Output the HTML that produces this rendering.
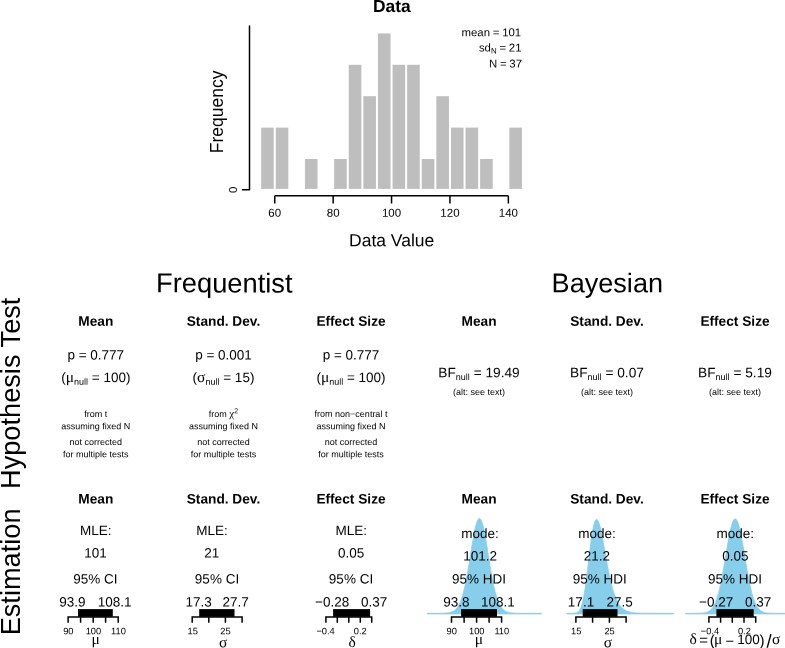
<!DOCTYPE html>
<html><head><meta charset="utf-8"><title>Data</title>
<style>
html,body{margin:0;padding:0;background:#fff;}
svg{display:block;font-family:"Liberation Sans",sans-serif;fill:#000;}
</style></head><body>
<svg width="785" height="648" viewBox="0 0 785 648">
<rect width="785" height="648" fill="#fff"/>
<rect x="261.15" y="127.60" width="12.60" height="61.30" fill="#bebebe"/>
<rect x="275.75" y="127.60" width="12.60" height="61.30" fill="#bebebe"/>
<rect x="304.95" y="159.00" width="12.60" height="29.90" fill="#bebebe"/>
<rect x="334.15" y="159.00" width="12.60" height="29.90" fill="#bebebe"/>
<rect x="348.75" y="64.80" width="12.60" height="124.10" fill="#bebebe"/>
<rect x="363.35" y="96.20" width="12.60" height="92.70" fill="#bebebe"/>
<rect x="377.95" y="33.40" width="12.60" height="155.50" fill="#bebebe"/>
<rect x="392.55" y="64.80" width="12.60" height="124.10" fill="#bebebe"/>
<rect x="407.15" y="64.80" width="12.60" height="124.10" fill="#bebebe"/>
<rect x="421.75" y="159.00" width="12.60" height="29.90" fill="#bebebe"/>
<rect x="436.35" y="96.20" width="12.60" height="92.70" fill="#bebebe"/>
<rect x="450.95" y="127.60" width="12.60" height="61.30" fill="#bebebe"/>
<rect x="465.55" y="127.60" width="12.60" height="61.30" fill="#bebebe"/>
<rect x="480.15" y="159.00" width="12.60" height="29.90" fill="#bebebe"/>
<rect x="509.35" y="127.60" width="12.60" height="61.30" fill="#bebebe"/>
<path d="M249.5 25.5V189.8H241.9" stroke="#000" stroke-width="1.5" fill="none" stroke-linejoin="round"/>
<text transform="translate(236.8,189.8) rotate(-90)" text-anchor="middle" font-size="11.5">0</text>
<path d="M274.75 195.8H508.35M274.75 195.8V203.5M333.15 195.8V203.5M391.55 195.8V203.5M449.95 195.8V203.5M508.35 195.8V203.5" stroke="#000" stroke-width="1.5" fill="none"/>
<text x="274.75" y="216.8" transform="rotate(0.05 274.75 216.8)" text-anchor="middle" font-size="11.5">60</text>
<text x="333.15" y="216.8" transform="rotate(0.05 333.15 216.8)" text-anchor="middle" font-size="11.5">80</text>
<text x="391.55" y="216.8" transform="rotate(0.05 391.55 216.8)" text-anchor="middle" font-size="11.5">100</text>
<text x="449.95" y="216.8" transform="rotate(0.05 449.95 216.8)" text-anchor="middle" font-size="11.5">120</text>
<text x="508.35" y="216.8" transform="rotate(0.05 508.35 216.8)" text-anchor="middle" font-size="11.5">140</text>
<text x="391.8" y="12.1" transform="rotate(0.05 391.8 12.1)" text-anchor="middle" font-size="17.4" font-weight="bold">Data</text>
<text x="391.7" y="246.3" transform="rotate(0.05 391.7 246.3)" text-anchor="middle" font-size="17.5">Data Value</text>
<text transform="translate(223.3,111.9) rotate(-90)" text-anchor="middle" font-size="17.5">Frequency</text>
<text x="521.2" y="36.3" transform="rotate(0.05 521.2 36.3)" text-anchor="end" font-size="11.4" style="word-spacing:-0.4px">mean = 101</text>
<text x="521.5" y="51.6" transform="rotate(0.05 521.5 51.6)" text-anchor="end" font-size="11.4" style="word-spacing:-0.4px">sd<tspan font-size="7.9" dy="2">N</tspan><tspan dy="-2"> = 21</tspan></text>
<text x="522" y="67.6" transform="rotate(0.05 522 67.6)" text-anchor="end" font-size="11.4" style="word-spacing:-0.4px">N = 37</text>
<text x="224.3" y="292.4" transform="rotate(0.05 224.3 292.4)" text-anchor="middle" font-size="27.3">Frequentist</text>
<text x="607.3" y="292.2" transform="rotate(0.05 607.3 292.2)" text-anchor="middle" font-size="27.1">Bayesian</text>
<text transform="translate(19.8,393.3) rotate(-90)" text-anchor="middle" font-size="27.2">Hypothesis Test</text>
<text transform="translate(19.8,571.9) rotate(-90)" text-anchor="middle" font-size="27.2">Estimation</text>
<text x="95.8" y="325.7" transform="rotate(0.05 95.8 325.7)" text-anchor="middle" font-size="13.7" font-weight="bold">Mean</text>
<text x="95.8" y="503.6" transform="rotate(0.05 95.8 503.6)" text-anchor="middle" font-size="13.7" font-weight="bold">Mean</text>
<text x="223.5" y="325.7" transform="rotate(0.05 223.5 325.7)" text-anchor="middle" font-size="13.7" font-weight="bold">Stand. Dev.</text>
<text x="223.5" y="503.6" transform="rotate(0.05 223.5 503.6)" text-anchor="middle" font-size="13.7" font-weight="bold">Stand. Dev.</text>
<text x="351" y="325.7" transform="rotate(0.05 351 325.7)" text-anchor="middle" font-size="13.7" font-weight="bold">Effect Size</text>
<text x="351" y="503.6" transform="rotate(0.05 351 503.6)" text-anchor="middle" font-size="13.7" font-weight="bold">Effect Size</text>
<text x="479" y="325.7" transform="rotate(0.05 479 325.7)" text-anchor="middle" font-size="13.7" font-weight="bold">Mean</text>
<text x="479" y="503.6" transform="rotate(0.05 479 503.6)" text-anchor="middle" font-size="13.7" font-weight="bold">Mean</text>
<text x="607" y="325.7" transform="rotate(0.05 607 325.7)" text-anchor="middle" font-size="13.7" font-weight="bold">Stand. Dev.</text>
<text x="607" y="503.6" transform="rotate(0.05 607 503.6)" text-anchor="middle" font-size="13.7" font-weight="bold">Stand. Dev.</text>
<text x="735" y="325.7" transform="rotate(0.05 735 325.7)" text-anchor="middle" font-size="13.7" font-weight="bold">Effect Size</text>
<text x="735" y="503.6" transform="rotate(0.05 735 503.6)" text-anchor="middle" font-size="13.7" font-weight="bold">Effect Size</text>
<text x="95.8" y="359.4" transform="rotate(0.05 95.8 359.4)" text-anchor="middle" font-size="13.5">p = 0.777</text>
<text x="95.8" y="382" transform="rotate(0.05 95.8 382)" text-anchor="middle" font-size="13.5">(<tspan font-family="Liberation Serif, serif" font-size="15.5">μ</tspan><tspan font-size="9" dy="2.8">null</tspan><tspan dy="-2.8"> = 100)</tspan></text>
<text x="95.8" y="416.9" transform="rotate(0.05 95.8 416.9)" text-anchor="middle" font-size="9">from t</text>
<text x="95.8" y="429.2" transform="rotate(0.05 95.8 429.2)" text-anchor="middle" font-size="9">assuming fixed N</text>
<text x="95.8" y="445" transform="rotate(0.05 95.8 445)" text-anchor="middle" font-size="9">not corrected</text>
<text x="95.8" y="457.2" transform="rotate(0.05 95.8 457.2)" text-anchor="middle" font-size="9">for multiple tests</text>
<text x="223.5" y="359.4" transform="rotate(0.05 223.5 359.4)" text-anchor="middle" font-size="13.5">p = 0.001</text>
<text x="223.5" y="382" transform="rotate(0.05 223.5 382)" text-anchor="middle" font-size="13.5">(<tspan font-family="Liberation Serif, serif" font-size="15.5">σ</tspan><tspan font-size="9" dy="2.8">null</tspan><tspan dy="-2.8"> = 15)</tspan></text>
<text x="223.5" y="416.9" transform="rotate(0.05 223.5 416.9)" text-anchor="middle" font-size="9">from <tspan font-family="Liberation Serif, serif" font-size="11">χ</tspan><tspan font-size="7" dy="-3.6">2</tspan></text>
<text x="223.5" y="429.2" transform="rotate(0.05 223.5 429.2)" text-anchor="middle" font-size="9">assuming fixed N</text>
<text x="223.5" y="445" transform="rotate(0.05 223.5 445)" text-anchor="middle" font-size="9">not corrected</text>
<text x="223.5" y="457.2" transform="rotate(0.05 223.5 457.2)" text-anchor="middle" font-size="9">for multiple tests</text>
<text x="351" y="359.4" transform="rotate(0.05 351 359.4)" text-anchor="middle" font-size="13.5">p = 0.777</text>
<text x="351" y="382" transform="rotate(0.05 351 382)" text-anchor="middle" font-size="13.5">(<tspan font-family="Liberation Serif, serif" font-size="15.5">μ</tspan><tspan font-size="9" dy="2.8">null</tspan><tspan dy="-2.8"> = 100)</tspan></text>
<text x="351" y="416.9" transform="rotate(0.05 351 416.9)" text-anchor="middle" font-size="9">from non−central t</text>
<text x="351" y="429.2" transform="rotate(0.05 351 429.2)" text-anchor="middle" font-size="9">assuming fixed N</text>
<text x="351" y="445" transform="rotate(0.05 351 445)" text-anchor="middle" font-size="9">not corrected</text>
<text x="351" y="457.2" transform="rotate(0.05 351 457.2)" text-anchor="middle" font-size="9">for multiple tests</text>
<text x="479" y="377.3" transform="rotate(0.05 479 377.3)" text-anchor="middle" font-size="13.7">BF<tspan font-size="9" dy="2.8">null</tspan><tspan dy="-2.8"> = 19.49</tspan></text>
<text x="479" y="395" transform="rotate(0.05 479 395)" text-anchor="middle" font-size="9">(alt: see text)</text>
<text x="607" y="377.3" transform="rotate(0.05 607 377.3)" text-anchor="middle" font-size="13.7">BF<tspan font-size="9" dy="2.8">null</tspan><tspan dy="-2.8"> = 0.07</tspan></text>
<text x="607" y="395" transform="rotate(0.05 607 395)" text-anchor="middle" font-size="9">(alt: see text)</text>
<text x="735" y="377.3" transform="rotate(0.05 735 377.3)" text-anchor="middle" font-size="13.7">BF<tspan font-size="9" dy="2.8">null</tspan><tspan dy="-2.8"> = 5.19</tspan></text>
<text x="735" y="395" transform="rotate(0.05 735 395)" text-anchor="middle" font-size="9">(alt: see text)</text>
<text x="95.7" y="535" transform="rotate(0.05 95.7 535)" text-anchor="middle" font-size="13.5">MLE:</text>
<text x="95.5" y="557.4" transform="rotate(0.05 95.5 557.4)" text-anchor="middle" font-size="13.5">101</text>
<text x="95.3" y="583.6" transform="rotate(0.05 95.3 583.6)" text-anchor="middle" font-size="13.5">95% CI</text>
<text x="72.3" y="606.6" transform="rotate(0.05 72.3 606.6)" text-anchor="middle" font-size="13.5">93.9</text>
<text x="114.6" y="606.6" transform="rotate(0.05 114.6 606.6)" text-anchor="middle" font-size="13.5">108.1</text>
<rect x="78" y="609.1" width="34.80" height="7.7" fill="#000"/>
<path d="M68.1 622.8V617.1H118.2V622.8M80.6 617.1V622.8M93.2 617.1V622.8M105.6 617.1V622.8" stroke="#000" stroke-width="1.5" fill="none"/>
<text x="68.3" y="634.3" transform="rotate(0.05 68.3 634.3)" text-anchor="middle" font-size="9.3">90</text>
<text x="93.4" y="634.3" transform="rotate(0.05 93.4 634.3)" text-anchor="middle" font-size="9.3">100</text>
<text x="118.4" y="634.3" transform="rotate(0.05 118.4 634.3)" text-anchor="middle" font-size="9.3">110</text>
<text x="95.7" y="644.1" transform="rotate(0.05 95.7 644.1)" text-anchor="middle" font-size="15.5" font-family="Liberation Serif, serif">μ</text>
<text x="212" y="535" transform="rotate(0.05 212 535)" text-anchor="middle" font-size="13.5">MLE:</text>
<text x="211.7" y="557.4" transform="rotate(0.05 211.7 557.4)" text-anchor="middle" font-size="13.5">21</text>
<text x="217" y="583.6" transform="rotate(0.05 217 583.6)" text-anchor="middle" font-size="13.5">95% CI</text>
<text x="198.6" y="606.6" transform="rotate(0.05 198.6 606.6)" text-anchor="middle" font-size="13.5">17.3</text>
<text x="235.7" y="606.6" transform="rotate(0.05 235.7 606.6)" text-anchor="middle" font-size="13.5">27.7</text>
<rect x="199.2" y="609.1" width="35.30" height="7.7" fill="#000"/>
<path d="M192.2 622.8V617.1H242.1V622.8M208.8 617.1V622.8M225.4 617.1V622.8" stroke="#000" stroke-width="1.5" fill="none"/>
<text x="192.7" y="634.3" transform="rotate(0.05 192.7 634.3)" text-anchor="middle" font-size="9.3">15</text>
<text x="225.4" y="634.3" transform="rotate(0.05 225.4 634.3)" text-anchor="middle" font-size="9.3">25</text>
<text x="223.2" y="647.2" transform="rotate(0.05 223.2 647.2)" text-anchor="middle" font-size="15.5" font-family="Liberation Serif, serif">σ</text>
<text x="351.2" y="535" transform="rotate(0.05 351.2 535)" text-anchor="middle" font-size="13.5">MLE:</text>
<text x="351.2" y="557.4" transform="rotate(0.05 351.2 557.4)" text-anchor="middle" font-size="13.5">0.05</text>
<text x="351" y="583.6" transform="rotate(0.05 351 583.6)" text-anchor="middle" font-size="13.5">95% CI</text>
<text x="332.2" y="606.6" transform="rotate(0.05 332.2 606.6)" text-anchor="middle" font-size="13.5">−0.28</text>
<text x="374.2" y="606.6" transform="rotate(0.05 374.2 606.6)" text-anchor="middle" font-size="13.5">0.37</text>
<rect x="333.1" y="609.1" width="37.00" height="7.7" fill="#000"/>
<path d="M325.9 622.8V617.1H371.7V622.8M337.3 617.1V622.8M348.8 617.1V622.8M360.3 617.1V622.8" stroke="#000" stroke-width="1.5" fill="none"/>
<text x="325.6" y="634.3" transform="rotate(0.05 325.6 634.3)" text-anchor="middle" font-size="9.3">−0.4</text>
<text x="360.2" y="634.3" transform="rotate(0.05 360.2 634.3)" text-anchor="middle" font-size="9.3">0.2</text>
<text x="352.1" y="647" transform="rotate(0.05 352.1 647)" text-anchor="middle" font-size="15.5" font-family="Liberation Serif, serif">δ</text>
<polygon points="427.2,613.9499999999999 427.2,613.30 427.8,613.30 428.3,613.30 428.9,613.30 429.5,613.30 430.1,613.30 430.6,613.30 431.2,613.30 431.8,613.30 432.3,613.30 432.9,613.30 433.5,613.30 434.1,613.29 434.6,613.29 435.2,613.29 435.8,613.29 436.3,613.29 436.9,613.29 437.5,613.28 438.0,613.28 438.6,613.27 439.2,613.27 439.8,613.26 440.3,613.25 440.9,613.25 441.5,613.23 442.0,613.22 442.6,613.21 443.2,613.19 443.8,613.17 444.3,613.14 444.9,613.11 445.5,613.07 446.0,613.03 446.6,612.98 447.2,612.92 447.8,612.85 448.3,612.77 448.9,612.68 449.5,612.57 450.0,612.44 450.6,612.29 451.2,612.11 451.8,611.91 452.3,611.68 452.9,611.41 453.5,611.10 454.0,610.75 454.6,610.34 455.2,609.88 455.8,609.36 456.3,608.77 456.9,608.10 457.5,607.35 458.0,606.50 458.6,605.56 459.2,604.51 459.7,603.34 460.3,602.05 460.9,600.63 461.5,599.07 462.0,597.36 462.6,595.50 463.2,593.49 463.7,591.32 464.3,588.98 464.9,586.48 465.5,583.83 466.0,581.02 466.6,578.06 467.2,574.96 467.7,571.74 468.3,568.40 468.9,564.96 469.5,561.46 470.0,557.90 470.6,554.32 471.2,550.74 471.7,547.19 472.3,543.71 472.9,540.32 473.5,537.07 474.0,533.98 474.6,531.09 475.2,528.43 475.7,526.03 476.3,523.93 476.9,522.14 477.4,520.68 478.0,519.58 478.6,518.85 479.2,518.50 479.7,518.53 480.3,518.94 480.9,519.74 481.4,520.89 482.0,522.41 482.6,524.25 483.2,526.41 483.7,528.85 484.3,531.55 484.9,534.47 485.4,537.59 486.0,540.86 486.6,544.27 487.2,547.76 487.7,551.32 488.3,554.90 488.9,558.48 489.4,562.03 490.0,565.53 490.6,568.95 491.2,572.27 491.7,575.47 492.3,578.55 492.9,581.49 493.4,584.27 494.0,586.90 494.6,589.37 495.1,591.68 495.7,593.83 496.3,595.82 496.9,597.65 497.4,599.33 498.0,600.87 498.6,602.27 499.1,603.54 499.7,604.69 500.3,605.72 500.9,606.65 501.4,607.48 502.0,608.21 502.6,608.87 503.1,609.45 503.7,609.96 504.3,610.41 504.9,610.81 505.4,611.15 506.0,611.45 506.6,611.72 507.1,611.94 507.7,612.14 508.3,612.31 508.9,612.46 509.4,612.58 510.0,612.69 510.6,612.79 511.1,612.87 511.7,612.93 512.3,612.99 512.9,613.04 513.4,613.08 514.0,613.12 514.6,613.15 515.1,613.17 515.7,613.19 516.3,613.21 516.8,613.22 517.4,613.24 518.0,613.25 518.6,613.26 519.1,613.26 519.7,613.27 520.3,613.27 520.8,613.28 521.4,613.28 522.0,613.29 522.6,613.29 523.1,613.29 523.7,613.29 524.3,613.29 524.8,613.29 525.4,613.30 526.0,613.30 526.6,613.30 527.1,613.30 527.7,613.30 528.3,613.30 528.8,613.30 529.4,613.30 530.0,613.30 530.6,613.30 531.1,613.30 531.7,613.30 532.3,613.30 532.8,613.30 533.4,613.30 534.0,613.30 534.5,613.30 535.1,613.30 535.7,613.30 536.3,613.30 536.8,613.30 537.4,613.30 538.0,613.30 538.5,613.30 539.1,613.30 539.7,613.30 540.3,613.30 540.8,613.30 541.4,613.30 541.4,613.9499999999999" fill="#87ceeb" stroke="#87ceeb" stroke-width="0.8" stroke-linejoin="round"/>
<text x="480" y="538.1" transform="rotate(0.05 480 538.1)" text-anchor="middle" font-size="13.5">mode:</text>
<text x="480.2" y="560.5" transform="rotate(0.05 480.2 560.5)" text-anchor="middle" font-size="13.5">101.2</text>
<text x="479" y="583.6" transform="rotate(0.05 479 583.6)" text-anchor="middle" font-size="13.5">95% HDI</text>
<text x="456.3" y="606.6" transform="rotate(0.05 456.3 606.6)" text-anchor="middle" font-size="13.5">93.8</text>
<text x="498" y="606.6" transform="rotate(0.05 498 606.6)" text-anchor="middle" font-size="13.5">108.1</text>
<rect x="461.1" y="609.1" width="35.90" height="7.7" fill="#000"/>
<path d="M451.5 622.8V617.1H501.6V622.8M464.1 617.1V622.8M476.6 617.1V622.8M489.1 617.1V622.8" stroke="#000" stroke-width="1.5" fill="none"/>
<text x="451.7" y="634.3" transform="rotate(0.05 451.7 634.3)" text-anchor="middle" font-size="9.3">90</text>
<text x="476.8" y="634.3" transform="rotate(0.05 476.8 634.3)" text-anchor="middle" font-size="9.3">100</text>
<text x="501.8" y="634.3" transform="rotate(0.05 501.8 634.3)" text-anchor="middle" font-size="9.3">110</text>
<text x="479" y="644.1" transform="rotate(0.05 479 644.1)" text-anchor="middle" font-size="15.5" font-family="Liberation Serif, serif">μ</text>
<polygon points="566.9,613.9499999999999 566.9,613.30 567.4,613.30 568.0,613.30 568.5,613.30 569.0,613.30 569.6,613.30 570.1,613.30 570.6,613.30 571.2,613.30 571.7,613.29 572.2,613.29 572.8,613.28 573.3,613.26 573.8,613.24 574.4,613.20 574.9,613.15 575.4,613.07 576.0,612.96 576.5,612.80 577.0,612.58 577.6,612.28 578.1,611.90 578.6,611.39 579.2,610.75 579.7,609.95 580.2,608.96 580.8,607.76 581.3,606.33 581.9,604.64 582.4,602.68 582.9,600.43 583.5,597.89 584.0,595.05 584.5,591.92 585.1,588.51 585.6,584.84 586.1,580.93 586.7,576.82 587.2,572.54 587.7,568.14 588.3,563.67 588.8,559.18 589.3,554.71 589.9,550.33 590.4,546.09 590.9,542.03 591.5,538.20 592.0,534.64 592.5,531.40 593.1,528.51 593.6,525.99 594.1,523.86 594.7,522.14 595.2,520.84 595.7,519.95 596.3,519.47 596.8,519.40 597.3,519.72 597.9,520.41 598.4,521.45 598.9,522.81 599.5,524.47 600.0,526.40 600.5,528.58 601.1,530.96 601.6,533.52 602.1,536.23 602.7,539.06 603.2,541.98 603.7,544.98 604.3,548.01 604.8,551.06 605.3,554.12 605.9,557.15 606.4,560.14 607.0,563.08 607.5,565.96 608.0,568.76 608.6,571.47 609.1,574.10 609.6,576.62 610.2,579.04 610.7,581.35 611.2,583.56 611.8,585.65 612.3,587.64 612.8,589.51 613.4,591.28 613.9,592.95 614.4,594.51 615.0,595.97 615.5,597.34 616.0,598.62 616.6,599.81 617.1,600.92 617.6,601.95 618.2,602.90 618.7,603.78 619.2,604.59 619.8,605.35 620.3,606.04 620.8,606.68 621.4,607.27 621.9,607.80 622.4,608.30 623.0,608.75 623.5,609.17 624.0,609.55 624.6,609.89 625.1,610.21 625.6,610.50 626.2,610.76 626.7,611.00 627.2,611.22 627.8,611.42 628.3,611.60 628.8,611.76 629.4,611.91 629.9,612.04 630.4,612.16 631.0,612.28 631.5,612.38 632.0,612.47 632.6,612.55 633.1,612.62 633.6,612.69 634.2,612.75 634.7,612.80 635.3,612.85 635.8,612.90 636.3,612.94 636.9,612.97 637.4,613.01 637.9,613.04 638.5,613.06 639.0,613.09 639.5,613.11 640.1,613.13 640.6,613.15 641.1,613.16 641.7,613.17 642.2,613.19 642.7,613.20 643.3,613.21 643.8,613.22 644.3,613.23 644.9,613.23 645.4,613.24 645.9,613.25 646.5,613.25 647.0,613.26 647.5,613.26 648.1,613.27 648.6,613.27 649.1,613.27 649.7,613.27 650.2,613.28 650.7,613.28 651.3,613.28 651.8,613.28 652.3,613.29 652.9,613.29 653.4,613.29 653.9,613.29 654.5,613.29 655.0,613.29 655.5,613.29 656.1,613.29 656.6,613.29 657.1,613.29 657.7,613.29 658.2,613.30 658.7,613.30 659.3,613.30 659.8,613.30 660.4,613.30 660.9,613.30 661.4,613.30 662.0,613.30 662.5,613.30 663.0,613.30 663.6,613.30 664.1,613.30 664.6,613.30 665.2,613.30 665.7,613.30 666.2,613.30 666.8,613.30 667.3,613.30 667.8,613.30 668.4,613.30 668.9,613.30 669.4,613.30 670.0,613.30 670.5,613.30 671.0,613.30 671.6,613.30 672.1,613.30 672.6,613.30 673.2,613.30 673.7,613.30 673.7,613.9499999999999" fill="#87ceeb" stroke="#87ceeb" stroke-width="0.8" stroke-linejoin="round"/>
<text x="597" y="538.1" transform="rotate(0.05 597 538.1)" text-anchor="middle" font-size="13.5">mode:</text>
<text x="596.8" y="560.5" transform="rotate(0.05 596.8 560.5)" text-anchor="middle" font-size="13.5">21.2</text>
<text x="599.7" y="583.6" transform="rotate(0.05 599.7 583.6)" text-anchor="middle" font-size="13.5">95% HDI</text>
<text x="581" y="606.6" transform="rotate(0.05 581 606.6)" text-anchor="middle" font-size="13.5">17.1</text>
<text x="619.6" y="606.6" transform="rotate(0.05 619.6 606.6)" text-anchor="middle" font-size="13.5">27.5</text>
<rect x="582.7" y="609.1" width="34.80" height="7.7" fill="#000"/>
<path d="M575.9 622.8V617.1H626.1V622.8M592.6 617.1V622.8M609.4 617.1V622.8" stroke="#000" stroke-width="1.5" fill="none"/>
<text x="576.2" y="634.3" transform="rotate(0.05 576.2 634.3)" text-anchor="middle" font-size="9.3">15</text>
<text x="609.6" y="634.3" transform="rotate(0.05 609.6 634.3)" text-anchor="middle" font-size="9.3">25</text>
<text x="607.9" y="647.2" transform="rotate(0.05 607.9 647.2)" text-anchor="middle" font-size="15.5" font-family="Liberation Serif, serif">σ</text>
<polygon points="685.6,613.9499999999999 685.6,613.30 686.1,613.30 686.6,613.30 687.1,613.30 687.6,613.30 688.1,613.30 688.6,613.30 689.1,613.30 689.6,613.30 690.1,613.30 690.6,613.30 691.1,613.30 691.6,613.30 692.1,613.30 692.6,613.30 693.1,613.29 693.6,613.29 694.1,613.29 694.6,613.29 695.1,613.29 695.6,613.28 696.1,613.28 696.6,613.28 697.1,613.27 697.6,613.26 698.1,613.25 698.6,613.24 699.1,613.23 699.6,613.22 700.1,613.20 700.6,613.18 701.1,613.15 701.6,613.12 702.1,613.08 702.6,613.04 703.1,612.99 703.6,612.93 704.1,612.86 704.6,612.77 705.1,612.68 705.6,612.56 706.1,612.43 706.6,612.28 707.1,612.11 707.6,611.91 708.1,611.68 708.6,611.42 709.1,611.13 709.6,610.80 710.1,610.42 710.6,609.99 711.1,609.52 711.6,608.98 712.1,608.38 712.6,607.72 713.1,606.99 713.6,606.17 714.1,605.28 714.6,604.30 715.1,603.22 715.6,602.05 716.1,600.78 716.6,599.40 717.1,597.91 717.6,596.31 718.1,594.60 718.6,592.77 719.1,590.82 719.6,588.76 720.1,586.58 720.6,584.29 721.1,581.89 721.6,579.38 722.1,576.78 722.6,574.08 723.1,571.31 723.6,568.46 724.1,565.55 724.6,562.59 725.1,559.60 725.6,556.58 726.1,553.57 726.6,550.57 727.1,547.60 727.6,544.68 728.1,541.82 728.6,539.06 729.1,536.40 729.6,533.87 730.1,531.48 730.6,529.25 731.1,527.20 731.6,525.34 732.1,523.69 732.6,522.27 733.1,521.08 733.6,520.13 734.1,519.43 734.6,518.98 735.1,518.80 735.6,518.88 736.1,519.22 736.6,519.82 737.1,520.67 737.6,521.76 738.1,523.10 738.6,524.66 739.1,526.43 739.6,528.41 740.1,530.57 740.6,532.89 741.1,535.37 741.6,537.98 742.1,540.71 742.6,543.53 743.1,546.42 743.6,549.37 744.1,552.36 744.6,555.38 745.1,558.39 745.6,561.39 746.1,564.37 746.6,567.30 747.1,570.17 747.6,572.98 748.1,575.71 748.6,578.35 749.1,580.90 749.6,583.34 750.1,585.68 750.6,587.90 751.1,590.01 751.6,592.00 752.1,593.88 752.6,595.64 753.1,597.28 753.6,598.82 754.1,600.24 754.6,601.55 755.1,602.77 755.6,603.88 756.1,604.90 756.6,605.83 757.1,606.67 757.6,607.44 758.1,608.13 758.6,608.75 759.1,609.31 759.6,609.81 760.1,610.25 760.6,610.65 761.1,611.00 761.6,611.31 762.1,611.58 762.6,611.82 763.1,612.03 763.6,612.22 764.1,612.38 764.6,612.51 765.1,612.63 765.6,612.74 766.1,612.82 766.6,612.90 767.1,612.96 767.6,613.02 768.1,613.06 768.6,613.10 769.1,613.14 769.6,613.17 770.1,613.19 770.6,613.21 771.1,613.23 771.6,613.24 772.1,613.25 772.6,613.26 773.1,613.27 773.6,613.27 774.1,613.28 774.6,613.28 775.1,613.29 775.6,613.29 776.1,613.29 776.6,613.29 777.1,613.29 777.6,613.30 778.1,613.30 778.6,613.30 779.1,613.30 779.6,613.30 780.1,613.30 780.6,613.30 781.1,613.30 781.6,613.30 782.1,613.30 782.6,613.30 783.1,613.30 783.6,613.30 784.1,613.30 784.6,613.30 785.1,613.30 785.6,613.30 785.6,613.9499999999999" fill="#87ceeb" stroke="#87ceeb" stroke-width="0.8" stroke-linejoin="round"/>
<text x="735.3" y="538.1" transform="rotate(0.05 735.3 538.1)" text-anchor="middle" font-size="13.5">mode:</text>
<text x="735.3" y="560.5" transform="rotate(0.05 735.3 560.5)" text-anchor="middle" font-size="13.5">0.05</text>
<text x="735" y="583.6" transform="rotate(0.05 735 583.6)" text-anchor="middle" font-size="13.5">95% HDI</text>
<text x="716.1" y="606.6" transform="rotate(0.05 716.1 606.6)" text-anchor="middle" font-size="13.5">−0.27</text>
<text x="758.2" y="606.6" transform="rotate(0.05 758.2 606.6)" text-anchor="middle" font-size="13.5">0.37</text>
<rect x="716.4" y="609.1" width="37.30" height="7.7" fill="#000"/>
<path d="M708.9 622.8V617.1H755.7V622.8M720.6 617.1V622.8M732.3 617.1V622.8M744 617.1V622.8" stroke="#000" stroke-width="1.5" fill="none"/>
<text x="709.9" y="634.3" transform="rotate(0.05 709.9 634.3)" text-anchor="middle" font-size="9.3">−0.4</text>
<text x="744.4" y="634.3" transform="rotate(0.05 744.4 634.3)" text-anchor="middle" font-size="9.3">0.2</text>
<text y="644" font-size="13.5" transform="rotate(0.05 735 644)"><tspan x="689.6" font-family="Liberation Serif, serif" font-size="15.5">δ</tspan><tspan x="699.2" y="645" font-size="15">=</tspan><tspan x="709.8" y="645.5" font-size="15.2">(</tspan><tspan x="714" y="644" font-family="Liberation Serif, serif" font-size="15.5">μ</tspan><tspan x="725.6" y="646.2" font-size="14.8">−</tspan><tspan x="737.2" y="644">100</tspan><tspan x="759.6" y="645.5" font-size="15.2">)</tspan><tspan x="766.5" y="647.4" font-size="18.5">/</tspan><tspan x="772" y="644" font-family="Liberation Serif, serif" font-size="15.5">σ</tspan></text>
</svg>
</body></html>
